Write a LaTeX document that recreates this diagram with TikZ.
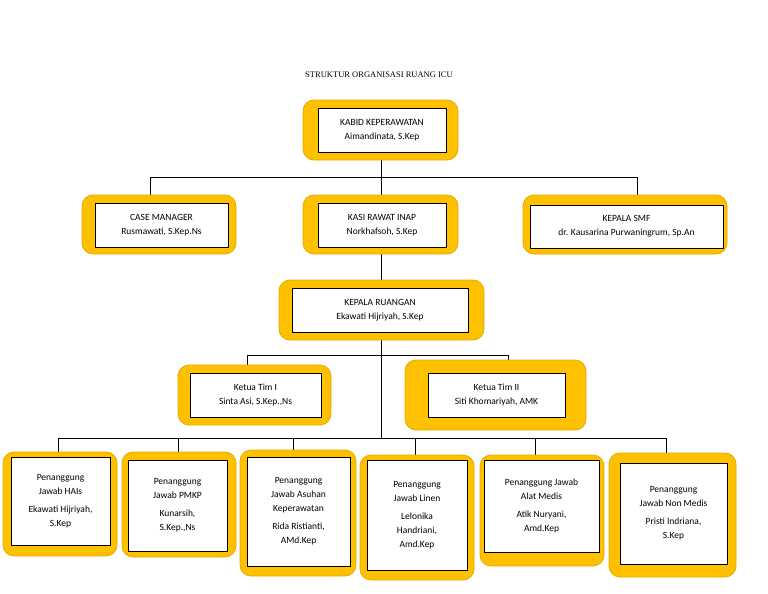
\documentclass[tikz,border=0pt]{standalone}
\usepackage{fontspec}
\setmainfont{Carlito}
\newfontfamily\titlefont{Liberation Serif}
\definecolor{kuning}{HTML}{FFC000}
\definecolor{kuningtua}{HTML}{E3AC00}
\tikzset{
  shell/.style={fill=kuning, draw=kuningtua, line width=0.8pt, rounded corners=11pt},
  isi/.style={draw, fill=white, line width=0.6pt, align=center, font=\fontsize{9.5}{14}\selectfont, inner sep=2pt},
  garis/.style={line width=0.6pt}
}
% outer box corners, inner centre, inner size, name, text
\newcommand{\unitbox}[7]{%
  \path[shell] (#1) rectangle (#2);
  \node[isi, minimum width=#4, minimum height=#5] (#6) at (#3) {#7};
}
\begin{document}
\begin{tikzpicture}[x=1pt,y=-1pt]
\useasboundingbox (0,0) rectangle (768,594);
\node[font=\titlefont\fontsize{8.5}{10}\selectfont] (judul) at (379,75) {STRUKTUR ORGANISASI RUANG ICU};

% connectors
\coordinate (bus1) at (381,177);
\coordinate (bus2) at (381,355);
\coordinate (bus3) at (381,438);
\draw[garis] (381,155) -- (bus1);
\draw[garis] (150,177) -- (637,177);
\draw[garis] (150,177) -- (150,205);
\draw[garis] (637,177) -- (637,205);
\draw[garis] (381,177) -- (381,290);
\draw[garis] (381,330) -- (bus3);
\draw[garis] (247,355) -- (508,355);
\draw[garis] (247,355) -- (247,375);
\draw[garis] (508,355) -- (508,375);
\draw[garis] (58,438) -- (666,438);
\foreach \xx in {58,178,293,415,535,666}
  \draw[garis] (\xx,438) -- (\xx,462);

% boxes
\unitbox{303,100}{458,160}{382,130}{128pt}{44pt}{kabid}{KABID KEPERAWATAN\\Aimandinata, S.Kep}
\unitbox{82,195}{236,254}{161.5,225}{133pt}{44pt}{casemgr}{CASE MANAGER\\Rusmawati, S.Kep.Ns}
\unitbox{303,195}{458,254}{382,225}{128pt}{44pt}{kasi}{KASI RAWAT INAP\\Norkhafsoh, S.Kep}
\unitbox{523,195}{727,254}{626.5,226.5}{193pt}{43pt}{smf}{KEPALA SMF\\dr. Kausarina Purwaningrum, Sp.An}
\unitbox{279,280}{484,340}{380,310}{176pt}{44pt}{karu}{KEPALA RUANGAN\\Ekawati Hijriyah, S.Kep}
\unitbox{178,365}{331,425}{255.5,395}{131pt}{44pt}{katim1}{Ketua Tim I\\Sinta Asi, S.Kep.,Ns}
\unitbox{405,360}{586,430}{496.5,395}{137pt}{44pt}{katim2}{Ketua Tim II\\Siti Khomariyah, AMK}

\unitbox{3,452}{117,556}{60.5,501}{99pt}{88pt}{hais}{Penanggung\\Jawab HAIs\\[4pt]Ekawati Hijriyah,\\S.Kep}
\unitbox{122,452}{236,557}{177.5,505.5}{99pt}{91pt}{pmkp}{Penanggung\\Jawab PMKP\\[4pt]Kunarsih,\\S.Kep.,Ns}
\unitbox{240,450}{356,576}{298.5,511.5}{103pt}{109pt}{asuhan}{Penanggung\\Jawab Asuhan\\Keperawatan\\[4pt]Rida Ristianti,\\AMd.Kep}
\unitbox{360,455}{474,580}{417,515}{100pt}{110pt}{linen}{Penanggung\\Jawab Linen\\[4pt]Lelonika\\Handriani,\\Amd.Kep}
\unitbox{480,455}{604,566}{541.5,506}{115pt}{92pt}{alat}{Penanggung Jawab\\Alat Medis\\[4pt]Atik Nuryani,\\Amd.Kep}
\unitbox{609,453}{736,577}{673.5,513.5}{107pt}{101pt}{nonmedis}{Penanggung\\Jawab Non Medis\\[4pt]Pristi Indriana,\\S.Kep}
\end{tikzpicture}
\end{document}
